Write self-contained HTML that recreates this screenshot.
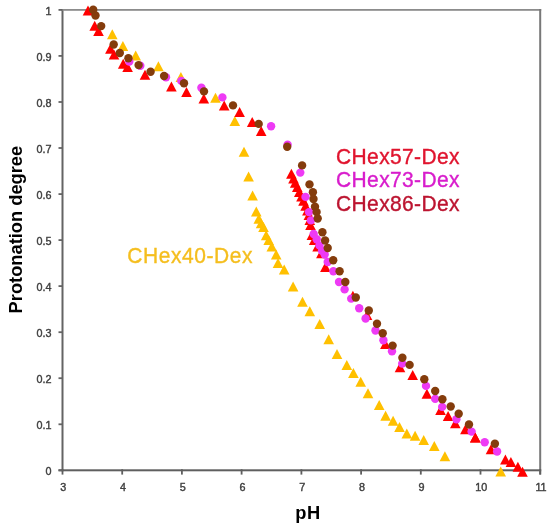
<!DOCTYPE html>
<html><head><meta charset="utf-8"><style>
html,body{margin:0;padding:0;background:#fff;}
body{width:550px;height:529px;overflow:hidden;}
svg{display:block;}
text{font-family:"Liberation Sans",Arial,sans-serif;}
.tk{font-size:10.8px;fill:#404040;stroke:#404040;stroke-width:0.4px;}
.ti{font-size:18.3px;font-weight:bold;fill:#000;}
.lg{font-size:21px;letter-spacing:0.38px;stroke-width:0.35px;}
</style></head><body>
<svg width="550" height="529" viewBox="0 0 550 529">
<rect width="550" height="529" fill="#fff"/>
<rect x="61.5" y="9" width="2" height="462.3" fill="#646464"/>
<rect x="61.5" y="9" width="479.7" height="1.8" fill="#8c8c8c"/>
<rect x="539.2" y="9" width="2" height="465.5" fill="#787878"/>
<rect x="58.5" y="469.3" width="482.7" height="2" fill="#5f5f5f"/>
<rect x="58.5" y="469.4" width="4" height="1.8" fill="#646464"/>
<rect x="58.5" y="423.4" width="4" height="1.8" fill="#646464"/>
<rect x="58.5" y="377.3" width="4" height="1.8" fill="#646464"/>
<rect x="58.5" y="331.3" width="4" height="1.8" fill="#646464"/>
<rect x="58.5" y="285.2" width="4" height="1.8" fill="#646464"/>
<rect x="58.5" y="239.2" width="4" height="1.8" fill="#646464"/>
<rect x="58.5" y="193.2" width="4" height="1.8" fill="#646464"/>
<rect x="58.5" y="147.1" width="4" height="1.8" fill="#646464"/>
<rect x="58.5" y="101.1" width="4" height="1.8" fill="#646464"/>
<rect x="58.5" y="55.0" width="4" height="1.8" fill="#646464"/>
<rect x="58.5" y="9.0" width="4" height="1.8" fill="#646464"/>
<rect x="61.6" y="469.3" width="1.8" height="5.3" fill="#5f5f5f"/>
<rect x="121.3" y="469.3" width="1.8" height="5.3" fill="#5f5f5f"/>
<rect x="181.0" y="469.3" width="1.8" height="5.3" fill="#5f5f5f"/>
<rect x="240.7" y="469.3" width="1.8" height="5.3" fill="#5f5f5f"/>
<rect x="300.5" y="469.3" width="1.8" height="5.3" fill="#5f5f5f"/>
<rect x="360.2" y="469.3" width="1.8" height="5.3" fill="#5f5f5f"/>
<rect x="419.9" y="469.3" width="1.8" height="5.3" fill="#5f5f5f"/>
<rect x="479.6" y="469.3" width="1.8" height="5.3" fill="#5f5f5f"/>
<rect x="539.3" y="469.3" width="1.8" height="5.3" fill="#5f5f5f"/>
<path d="M112.3 29.2L117.6 39.2L107.0 39.2Z" fill="#ffc000"/>
<path d="M122.9 40.9L128.2 50.9L117.6 50.9Z" fill="#ffc000"/>
<path d="M135.7 50.6L141.0 60.6L130.4 60.6Z" fill="#ffc000"/>
<path d="M158.4 61.2L163.7 71.2L153.1 71.2Z" fill="#ffc000"/>
<path d="M180.9 71.9L186.2 81.9L175.6 81.9Z" fill="#ffc000"/>
<path d="M215.5 92.7L220.8 102.7L210.2 102.7Z" fill="#ffc000"/>
<path d="M234.8 116.0L240.1 126.0L229.5 126.0Z" fill="#ffc000"/>
<path d="M244.0 146.8L249.3 156.8L238.7 156.8Z" fill="#ffc000"/>
<path d="M248.6 171.6L253.9 181.6L243.3 181.6Z" fill="#ffc000"/>
<path d="M252.6 190.5L257.9 200.5L247.3 200.5Z" fill="#ffc000"/>
<path d="M256.3 206.5L261.6 216.5L251.0 216.5Z" fill="#ffc000"/>
<path d="M258.8 213.7L264.1 223.7L253.5 223.7Z" fill="#ffc000"/>
<path d="M261.1 218.3L266.4 228.3L255.8 228.3Z" fill="#ffc000"/>
<path d="M263.5 222.0L268.8 232.0L258.2 232.0Z" fill="#ffc000"/>
<path d="M266.2 230.3L271.5 240.3L260.9 240.3Z" fill="#ffc000"/>
<path d="M268.7 235.0L274.0 245.0L263.4 245.0Z" fill="#ffc000"/>
<path d="M271.8 241.6L277.1 251.6L266.5 251.6Z" fill="#ffc000"/>
<path d="M276.2 249.5L281.5 259.5L270.9 259.5Z" fill="#ffc000"/>
<path d="M278.0 258.0L283.3 268.0L272.7 268.0Z" fill="#ffc000"/>
<path d="M284.2 264.6L289.5 274.6L278.9 274.6Z" fill="#ffc000"/>
<path d="M293.1 281.5L298.4 291.5L287.8 291.5Z" fill="#ffc000"/>
<path d="M302.5 296.8L307.8 306.8L297.2 306.8Z" fill="#ffc000"/>
<path d="M309.8 306.2L315.1 316.2L304.5 316.2Z" fill="#ffc000"/>
<path d="M319.7 319.1L325.0 329.1L314.4 329.1Z" fill="#ffc000"/>
<path d="M328.7 334.2L334.0 344.2L323.4 344.2Z" fill="#ffc000"/>
<path d="M337.0 349.1L342.3 359.1L331.7 359.1Z" fill="#ffc000"/>
<path d="M346.8 360.1L352.1 370.1L341.5 370.1Z" fill="#ffc000"/>
<path d="M353.4 368.1L358.7 378.1L348.1 378.1Z" fill="#ffc000"/>
<path d="M360.7 376.8L366.0 386.8L355.4 386.8Z" fill="#ffc000"/>
<path d="M368.0 388.3L373.3 398.3L362.7 398.3Z" fill="#ffc000"/>
<path d="M379.2 400.0L384.5 410.0L373.9 410.0Z" fill="#ffc000"/>
<path d="M385.6 410.7L390.9 420.7L380.3 420.7Z" fill="#ffc000"/>
<path d="M393.1 415.7L398.4 425.7L387.8 425.7Z" fill="#ffc000"/>
<path d="M399.5 422.1L404.8 432.1L394.2 432.1Z" fill="#ffc000"/>
<path d="M406.8 428.6L412.1 438.6L401.5 438.6Z" fill="#ffc000"/>
<path d="M415.1 430.8L420.4 440.8L409.8 440.8Z" fill="#ffc000"/>
<path d="M423.7 434.9L429.0 444.9L418.4 444.9Z" fill="#ffc000"/>
<path d="M434.3 441.0L439.6 451.0L429.0 451.0Z" fill="#ffc000"/>
<path d="M444.9 451.2L450.2 461.2L439.6 461.2Z" fill="#ffc000"/>
<path d="M500.7 466.4L506.0 476.4L495.4 476.4Z" fill="#ffc000"/>
<path d="M88.0 5.5L93.3 15.5L82.7 15.5Z" fill="#ff0000"/>
<path d="M94.7 20.8L100.0 30.8L89.4 30.8Z" fill="#ff0000"/>
<path d="M98.5 26.0L103.8 36.0L93.2 36.0Z" fill="#ff0000"/>
<path d="M110.4 43.7L115.7 53.7L105.1 53.7Z" fill="#ff0000"/>
<path d="M114.0 49.4L119.3 59.4L108.7 59.4Z" fill="#ff0000"/>
<path d="M123.2 58.8L128.5 68.8L117.9 68.8Z" fill="#ff0000"/>
<path d="M127.6 62.1L132.9 72.1L122.3 72.1Z" fill="#ff0000"/>
<path d="M145.0 69.7L150.3 79.7L139.7 79.7Z" fill="#ff0000"/>
<path d="M171.4 81.4L176.7 91.4L166.1 91.4Z" fill="#ff0000"/>
<path d="M186.5 86.9L191.8 96.9L181.2 96.9Z" fill="#ff0000"/>
<path d="M203.8 93.4L209.1 103.4L198.5 103.4Z" fill="#ff0000"/>
<path d="M224.2 100.4L229.5 110.4L218.9 110.4Z" fill="#ff0000"/>
<path d="M239.6 106.9L244.9 116.9L234.3 116.9Z" fill="#ff0000"/>
<path d="M252.2 116.9L257.5 126.9L246.9 126.9Z" fill="#ff0000"/>
<path d="M261.2 126.0L266.5 136.0L255.9 136.0Z" fill="#ff0000"/>
<path d="M291.4 168.7L296.7 178.7L286.1 178.7Z" fill="#ff0000"/>
<path d="M293.5 173.5L298.8 183.5L288.2 183.5Z" fill="#ff0000"/>
<path d="M295.2 177.8L300.5 187.8L289.9 187.8Z" fill="#ff0000"/>
<path d="M297.3 182.0L302.6 192.0L292.0 192.0Z" fill="#ff0000"/>
<path d="M299.3 187.0L304.6 197.0L294.0 197.0Z" fill="#ff0000"/>
<path d="M301.5 191.6L306.8 201.6L296.2 201.6Z" fill="#ff0000"/>
<path d="M303.5 195.8L308.8 205.8L298.2 205.8Z" fill="#ff0000"/>
<path d="M305.6 200.8L310.9 210.8L300.3 210.8Z" fill="#ff0000"/>
<path d="M307.4 205.4L312.7 215.4L302.1 215.4Z" fill="#ff0000"/>
<path d="M308.9 210.0L314.2 220.0L303.6 220.0Z" fill="#ff0000"/>
<path d="M309.8 215.0L315.1 225.0L304.5 225.0Z" fill="#ff0000"/>
<path d="M310.5 220.0L315.8 230.0L305.2 230.0Z" fill="#ff0000"/>
<path d="M311.9 230.1L317.2 240.1L306.6 240.1Z" fill="#ff0000"/>
<path d="M314.2 235.0L319.5 245.0L308.9 245.0Z" fill="#ff0000"/>
<path d="M317.6 241.4L322.9 251.4L312.3 251.4Z" fill="#ff0000"/>
<path d="M321.4 248.2L326.7 258.2L316.1 258.2Z" fill="#ff0000"/>
<path d="M325.4 261.9L330.7 271.9L320.1 271.9Z" fill="#ff0000"/>
<path d="M352.9 290.8L358.2 300.8L347.6 300.8Z" fill="#ff0000"/>
<path d="M367.0 310.0L372.3 320.0L361.7 320.0Z" fill="#ff0000"/>
<path d="M385.4 339.1L390.7 349.1L380.1 349.1Z" fill="#ff0000"/>
<path d="M400.0 362.2L405.3 372.2L394.7 372.2Z" fill="#ff0000"/>
<path d="M412.7 370.1L418.0 380.1L407.4 380.1Z" fill="#ff0000"/>
<path d="M426.9 388.8L432.2 398.8L421.6 398.8Z" fill="#ff0000"/>
<path d="M440.5 404.9L445.8 414.9L435.2 414.9Z" fill="#ff0000"/>
<path d="M448.1 410.9L453.4 420.9L442.8 420.9Z" fill="#ff0000"/>
<path d="M455.3 418.3L460.6 428.3L450.0 428.3Z" fill="#ff0000"/>
<path d="M465.4 424.2L470.7 434.2L460.1 434.2Z" fill="#ff0000"/>
<path d="M475.3 432.6L480.6 442.6L470.0 442.6Z" fill="#ff0000"/>
<path d="M491.0 444.3L496.3 454.3L485.7 454.3Z" fill="#ff0000"/>
<path d="M505.4 454.5L510.7 464.5L500.1 464.5Z" fill="#ff0000"/>
<path d="M510.9 457.0L516.2 467.0L505.6 467.0Z" fill="#ff0000"/>
<path d="M517.9 461.7L523.2 471.7L512.6 471.7Z" fill="#ff0000"/>
<path d="M522.5 466.8L527.8 476.8L517.2 476.8Z" fill="#ff0000"/>
<circle cx="129.3" cy="61.5" r="4.2" fill="#ee3af5"/>
<circle cx="140.3" cy="65.8" r="4.2" fill="#ee3af5"/>
<circle cx="166.0" cy="77.3" r="4.2" fill="#ee3af5"/>
<circle cx="181.3" cy="80.9" r="4.2" fill="#ee3af5"/>
<circle cx="201.4" cy="87.8" r="4.2" fill="#ee3af5"/>
<circle cx="222.4" cy="97.4" r="4.2" fill="#ee3af5"/>
<circle cx="271.1" cy="126.3" r="4.2" fill="#ee3af5"/>
<circle cx="287.6" cy="144.6" r="4.2" fill="#ee3af5"/>
<circle cx="300.3" cy="172.6" r="4.2" fill="#ee3af5"/>
<circle cx="305.5" cy="196.9" r="4.2" fill="#ee3af5"/>
<circle cx="309.0" cy="212.1" r="4.2" fill="#ee3af5"/>
<circle cx="310.9" cy="220.4" r="4.2" fill="#ee3af5"/>
<circle cx="313.7" cy="234.0" r="4.2" fill="#ee3af5"/>
<circle cx="316.7" cy="239.3" r="4.2" fill="#ee3af5"/>
<circle cx="319.4" cy="245.4" r="4.2" fill="#ee3af5"/>
<circle cx="322.0" cy="250.7" r="4.2" fill="#ee3af5"/>
<circle cx="324.7" cy="254.5" r="4.2" fill="#ee3af5"/>
<circle cx="327.7" cy="262.0" r="4.2" fill="#ee3af5"/>
<circle cx="333.4" cy="271.2" r="4.2" fill="#ee3af5"/>
<circle cx="339.0" cy="282.0" r="4.2" fill="#ee3af5"/>
<circle cx="344.6" cy="289.4" r="4.2" fill="#ee3af5"/>
<circle cx="351.2" cy="298.6" r="4.2" fill="#ee3af5"/>
<circle cx="359.2" cy="308.3" r="4.2" fill="#ee3af5"/>
<circle cx="365.6" cy="318.5" r="4.2" fill="#ee3af5"/>
<circle cx="375.5" cy="330.5" r="4.2" fill="#ee3af5"/>
<circle cx="383.4" cy="340.2" r="4.2" fill="#ee3af5"/>
<circle cx="392.0" cy="351.3" r="4.2" fill="#ee3af5"/>
<circle cx="402.2" cy="363.6" r="4.2" fill="#ee3af5"/>
<circle cx="426.0" cy="385.9" r="4.2" fill="#ee3af5"/>
<circle cx="435.2" cy="398.9" r="4.2" fill="#ee3af5"/>
<circle cx="442.2" cy="406.9" r="4.2" fill="#ee3af5"/>
<circle cx="456.4" cy="419.3" r="4.2" fill="#ee3af5"/>
<circle cx="471.6" cy="431.6" r="4.2" fill="#ee3af5"/>
<circle cx="484.7" cy="442.3" r="4.2" fill="#ee3af5"/>
<circle cx="497.1" cy="451.5" r="4.2" fill="#ee3af5"/>
<circle cx="93.2" cy="9.8" r="4.2" fill="#843c0c"/>
<circle cx="95.5" cy="15.5" r="4.2" fill="#843c0c"/>
<circle cx="101.2" cy="26.1" r="4.2" fill="#843c0c"/>
<circle cx="113.7" cy="44.5" r="4.2" fill="#843c0c"/>
<circle cx="119.8" cy="53.0" r="4.2" fill="#843c0c"/>
<circle cx="128.4" cy="58.2" r="4.2" fill="#843c0c"/>
<circle cx="138.6" cy="65.1" r="4.2" fill="#843c0c"/>
<circle cx="150.6" cy="71.8" r="4.2" fill="#843c0c"/>
<circle cx="164.1" cy="76.0" r="4.2" fill="#843c0c"/>
<circle cx="184.0" cy="83.2" r="4.2" fill="#843c0c"/>
<circle cx="204.0" cy="91.4" r="4.2" fill="#843c0c"/>
<circle cx="233.0" cy="105.4" r="4.2" fill="#843c0c"/>
<circle cx="258.7" cy="123.9" r="4.2" fill="#843c0c"/>
<circle cx="287.2" cy="146.8" r="4.2" fill="#843c0c"/>
<circle cx="302.1" cy="165.4" r="4.2" fill="#843c0c"/>
<circle cx="309.5" cy="184.4" r="4.2" fill="#843c0c"/>
<circle cx="312.9" cy="192.3" r="4.2" fill="#843c0c"/>
<circle cx="313.5" cy="199.0" r="4.2" fill="#843c0c"/>
<circle cx="315.0" cy="206.8" r="4.2" fill="#843c0c"/>
<circle cx="316.6" cy="212.1" r="4.2" fill="#843c0c"/>
<circle cx="317.7" cy="218.5" r="4.2" fill="#843c0c"/>
<circle cx="322.4" cy="232.2" r="4.2" fill="#843c0c"/>
<circle cx="325.1" cy="240.5" r="4.2" fill="#843c0c"/>
<circle cx="327.7" cy="248.0" r="4.2" fill="#843c0c"/>
<circle cx="333.2" cy="260.2" r="4.2" fill="#843c0c"/>
<circle cx="339.6" cy="271.2" r="4.2" fill="#843c0c"/>
<circle cx="345.3" cy="282.0" r="4.2" fill="#843c0c"/>
<circle cx="355.8" cy="297.5" r="4.2" fill="#843c0c"/>
<circle cx="368.8" cy="310.5" r="4.2" fill="#843c0c"/>
<circle cx="377.0" cy="323.8" r="4.2" fill="#843c0c"/>
<circle cx="382.7" cy="333.2" r="4.2" fill="#843c0c"/>
<circle cx="392.6" cy="345.6" r="4.2" fill="#843c0c"/>
<circle cx="402.4" cy="357.7" r="4.2" fill="#843c0c"/>
<circle cx="409.6" cy="364.9" r="4.2" fill="#843c0c"/>
<circle cx="424.3" cy="379.3" r="4.2" fill="#843c0c"/>
<circle cx="435.2" cy="391.0" r="4.2" fill="#843c0c"/>
<circle cx="442.4" cy="399.3" r="4.2" fill="#843c0c"/>
<circle cx="450.7" cy="406.5" r="4.2" fill="#843c0c"/>
<circle cx="458.7" cy="413.7" r="4.2" fill="#843c0c"/>
<circle cx="469.0" cy="424.5" r="4.2" fill="#843c0c"/>
<circle cx="494.9" cy="443.7" r="4.2" fill="#843c0c"/>
<path d="M475.3 432.6L480.6 442.6L470.0 442.6Z" fill="#ff0000"/>
<text x="51.5" y="474.9" text-anchor="end" class="tk">0</text>
<text x="51.5" y="428.9" text-anchor="end" class="tk">0.1</text>
<text x="51.5" y="382.8" text-anchor="end" class="tk">0.2</text>
<text x="51.5" y="336.8" text-anchor="end" class="tk">0.3</text>
<text x="51.5" y="290.7" text-anchor="end" class="tk">0.4</text>
<text x="51.5" y="244.7" text-anchor="end" class="tk">0.5</text>
<text x="51.5" y="198.7" text-anchor="end" class="tk">0.6</text>
<text x="51.5" y="152.6" text-anchor="end" class="tk">0.7</text>
<text x="51.5" y="106.6" text-anchor="end" class="tk">0.8</text>
<text x="51.5" y="60.5" text-anchor="end" class="tk">0.9</text>
<text x="51.5" y="14.5" text-anchor="end" class="tk">1</text>

<text x="63.3" y="491" text-anchor="middle" class="tk">3</text>
<text x="123.0" y="491" text-anchor="middle" class="tk">4</text>
<text x="182.7" y="491" text-anchor="middle" class="tk">5</text>
<text x="242.4" y="491" text-anchor="middle" class="tk">6</text>
<text x="302.2" y="491" text-anchor="middle" class="tk">7</text>
<text x="361.9" y="491" text-anchor="middle" class="tk">8</text>
<text x="421.6" y="491" text-anchor="middle" class="tk">9</text>
<text x="481.3" y="491" text-anchor="middle" class="tk">10</text>
<text x="541.0" y="491" text-anchor="middle" class="tk">11</text>

<text x="295.3" y="518.9" class="ti" style="letter-spacing:0.6px">pH</text>
<text transform="translate(22.2,229.6) rotate(-90)" text-anchor="middle" class="ti">Protonation degree</text>
<text transform="translate(336,163.6) scale(1,1.09)" class="lg" fill="#e0142e" stroke="#e0142e">CHex57-Dex</text>
<text transform="translate(336,187) scale(1,1.09)" class="lg" fill="#d81ccc" stroke="#d81ccc">CHex73-Dex</text>
<text transform="translate(336,210.5) scale(1,1.09)" class="lg" fill="#bc1430" stroke="#bc1430">CHex86-Dex</text>
<text transform="translate(127.3,263.2) scale(1,1.09)" class="lg" fill="#f5be1e" stroke="#f5be1e" style="letter-spacing:0.55px">CHex40-Dex</text>
</svg>
</body></html>
